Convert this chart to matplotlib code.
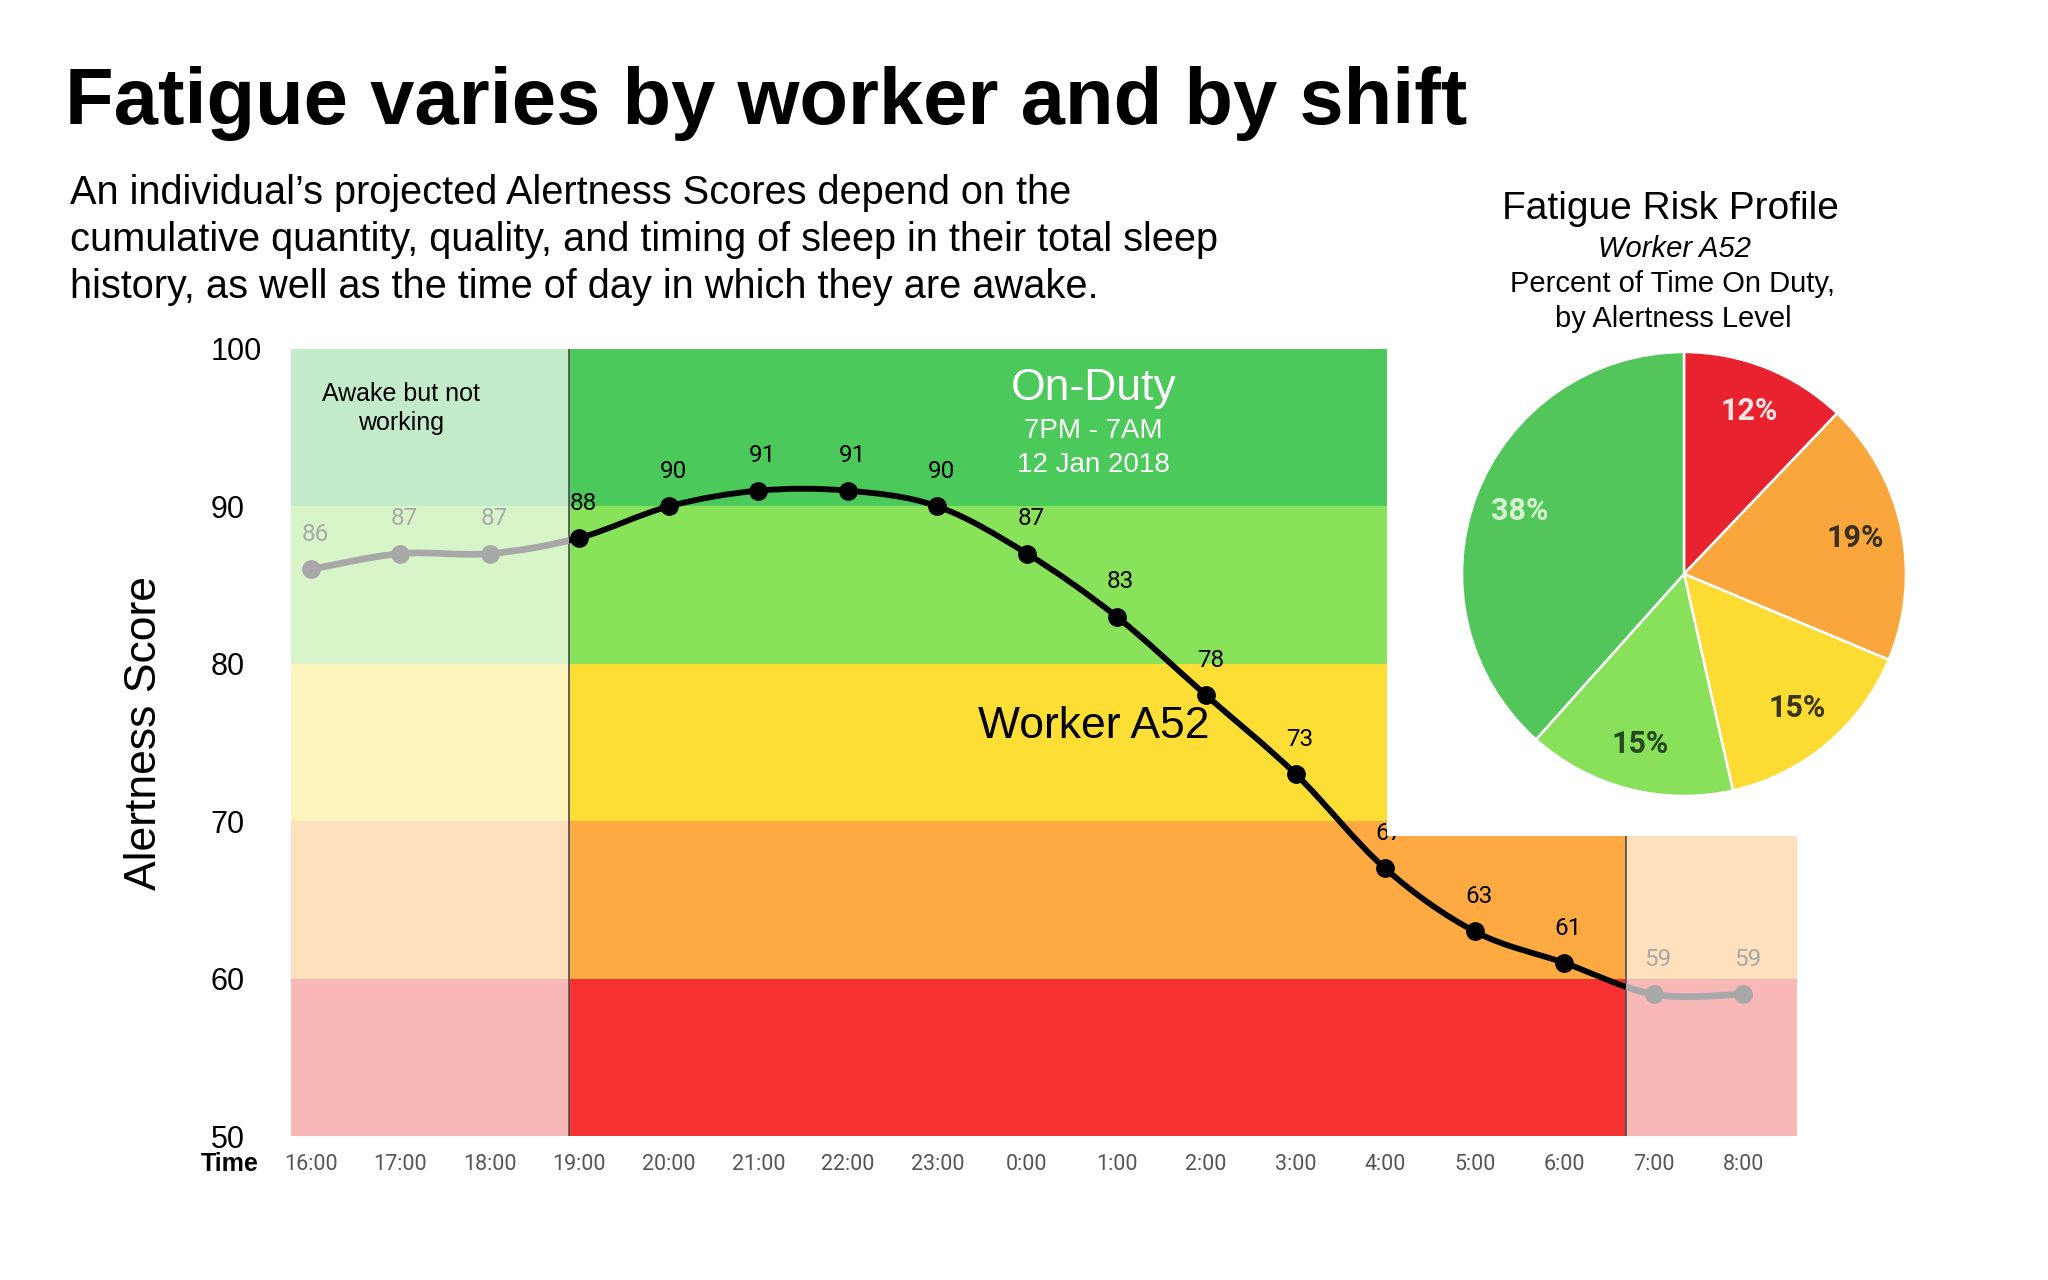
import matplotlib
matplotlib.use("Agg")
import matplotlib.pyplot as plt
import numpy as np
from matplotlib.path import Path
from matplotlib.patches import PathPatch, Rectangle

plt.rcParams["font.family"] = ["Liberation Sans", "DejaVu Sans"]

# ---- data ----
hours = ["16:00", "17:00", "18:00", "19:00", "20:00", "21:00", "22:00", "23:00", "0:00",
         "1:00", "2:00", "3:00", "4:00", "5:00", "6:00", "7:00", "8:00"]
scores = [86, 87, 87, 88, 90, 91, 91, 90, 87, 83, 78, 73, 67, 63, 61, 59, 59]

band_edges = [50, 60, 70, 80, 90, 100]
band_colors = ["#F53132", "#FDAA42", "#FDDE35", "#88E35B", "#4CC95B"]
band_faded = ["#F8B8B8", "#FEE0BD", "#FEF5BE", "#D7F5C8", "#C3EBC9"]

# shift boundaries, in hours after 16:00
shift_start = 2.88
shift_end = 14.69

pie_values = [12, 19, 15, 15, 38]
pie_colors = ["#E8232F", "#F9A63C", "#FCDC32", "#89E05A", "#52C65A"]
pie_text_colors = ["#FBE4E4", "#3A3020", "#3A3520", "#27491F", "#D9F3D2"]

W, H = 2048, 1280
fig = plt.figure(figsize=(W / 100, H / 100), dpi=100)

# ---- main chart ----
ax = fig.add_axes([291 / W, 1 - 1136 / H, (1797 - 291) / W, (1136 - 349) / H])
x = np.arange(len(hours), dtype=float)
ax.set_xlim(-0.22, 16.6)
ax.set_ylim(band_edges[0], band_edges[-1])

for lo, hi, sat, faded in zip(band_edges[:-1], band_edges[1:], band_colors, band_faded):
    ax.axhspan(lo, hi, color=faded, lw=0, zorder=0)
    ax.fill_between([shift_start, shift_end], lo, hi, color=sat, lw=0, zorder=0.5)

ax.axvline(shift_start, color="#555555", lw=1.3, zorder=1)
ax.axvline(shift_end, color="#555555", lw=1.3, zorder=1)


def smooth_path(xs, ys):
    pts = np.column_stack([xs, ys]).astype(float)
    ext = np.vstack([pts[0], pts, pts[-1]])
    verts = [pts[0]]
    codes = [Path.MOVETO]
    for i in range(len(pts) - 1):
        p0, p1, p2, p3 = ext[i], ext[i + 1], ext[i + 2], ext[i + 3]
        verts += [p1 + (p2 - p0) / 6, p2 - (p3 - p1) / 6, p2]
        codes += [Path.CURVE4] * 3
    return Path(verts, codes)


curve = smooth_path(x, scores)
gray = "#A8A8A8"
x0, x1 = ax.get_xlim()
for lo, hi, col, lw in [(x0, shift_start, gray, 4.8), (shift_end, x1, gray, 4.8),
                        (shift_start, shift_end, "black", 4.2)]:
    pp = PathPatch(curve, fill=False, edgecolor=col, lw=lw, zorder=3,
                   capstyle="round", joinstyle="round")
    ax.add_patch(pp)
    pp.set_clip_path(Rectangle((lo, 0), hi - lo, 200, transform=ax.transData))

on = (x > shift_start) & (x < shift_end)
ax.plot(x[on], np.array(scores)[on], "o", color="black", ms=12.5, zorder=4)
ax.plot(x[~on], np.array(scores)[~on], "o", color=gray, ms=12.5, zorder=4)

for xi, s, o in zip(x, scores, on):
    ax.annotate(str(s), (xi, s), xytext=(3, 25), textcoords="offset points",
                ha="center", va="center", fontsize=17.5, family="Roboto",
                color="black" if o else "#A9A9A9", zorder=5)

ax.text(0.533, 0.950, "On-Duty", transform=ax.transAxes, ha="center", va="center",
        fontsize=32, color="white")
ax.text(0.533, 0.896, "7PM - 7AM", transform=ax.transAxes, ha="center", va="center",
        fontsize=20, color="white")
ax.text(0.533, 0.853, "12 Jan 2018", transform=ax.transAxes, ha="center", va="center",
        fontsize=20, color="white")
ax.text(0.533, 0.520, "Worker A52", transform=ax.transAxes, ha="center", va="center",
        fontsize=32, color="black")
ax.text(0.073, 0.924, "Awake but not\nworking", transform=ax.transAxes, ha="center",
        va="center", fontsize=18, color="black", linespacing=1.25)

for sp in ax.spines.values():
    sp.set_visible(False)
ax.set_xticks(x)
ax.set_xticklabels(hours, family="Roboto", fontsize=15.5, color="#555555")
ax.set_yticks(band_edges)
ax.set_yticklabels([str(v) for v in band_edges], fontsize=22, ha="left")
ax.tick_params(axis="x", length=0, pad=13)
ax.tick_params(axis="y", length=0, pad=58)

fig.text(230 / W, 1 - 1164 / H, "Time", ha="center", va="center", fontsize=18,
         fontweight="bold")
fig.text(145 / W, 1 - 733 / H, "Alertness Score", ha="center", va="center",
         fontsize=32, rotation=90)

# ---- pie (white panel laid over the chart's top-right corner) ----
pax = fig.add_axes([1387 / W, 1 - 836 / H, (W - 1387) / W, 836 / H])
total = sum(pie_values)
wedges, _, autotexts = pax.pie(
    pie_values, colors=pie_colors, startangle=90, counterclock=False,
    autopct=lambda p: f"{p * total / 100:.0f}%", pctdistance=0.79,
    wedgeprops=dict(edgecolor="white", linewidth=1.8),
    textprops=dict(family="Roboto", fontsize=22, fontweight="bold"))
for t, c in zip(autotexts, pie_text_colors):
    t.set_color(c)
pax.set_frame_on(True)
pax.set_facecolor("white")
for sp in pax.spines.values():
    sp.set_visible(False)
r = 222.0
cx, cy = 1684 - 1387, 836 - 574
pax.set_xlim(-cx / r, (W - 1387 - cx) / r)
pax.set_ylim(-cy / r, (836 - cy) / r)
pax.set_aspect("equal", adjustable="datalim")

# ---- headings ----
fig.text(65 / W, 1 - 124 / H, "Fatigue varies by worker and by shift", fontsize=57.3,
         fontweight="bold", va="baseline", ha="left")
sub = ["An individual\u2019s projected Alertness Scores depend on the",
       "cumulative quantity, quality, and timing of sleep in their total sleep",
       "history, as well as the time of day in which they are awake."]
for i, line in enumerate(sub):
    fig.text(70 / W, 1 - (204 + 47 * i) / H, line, fontsize=28.6, va="baseline", ha="left")

fig.text(1670 / W, 1 - 219 / H, "Fatigue Risk Profile", fontsize=28, ha="center",
         va="baseline")
fig.text(1674 / W, 1 - 257 / H, "Worker A52", fontsize=21, ha="center", va="baseline",
         style="italic")
fig.text(1673 / W, 1 - 292 / H, "Percent of Time On Duty,", fontsize=21, ha="center",
         va="baseline")
fig.text(1673 / W, 1 - 327 / H, "by Alertness Level", fontsize=21, ha="center",
         va="baseline")

fig.savefig("out.png", dpi=100, facecolor="white")
